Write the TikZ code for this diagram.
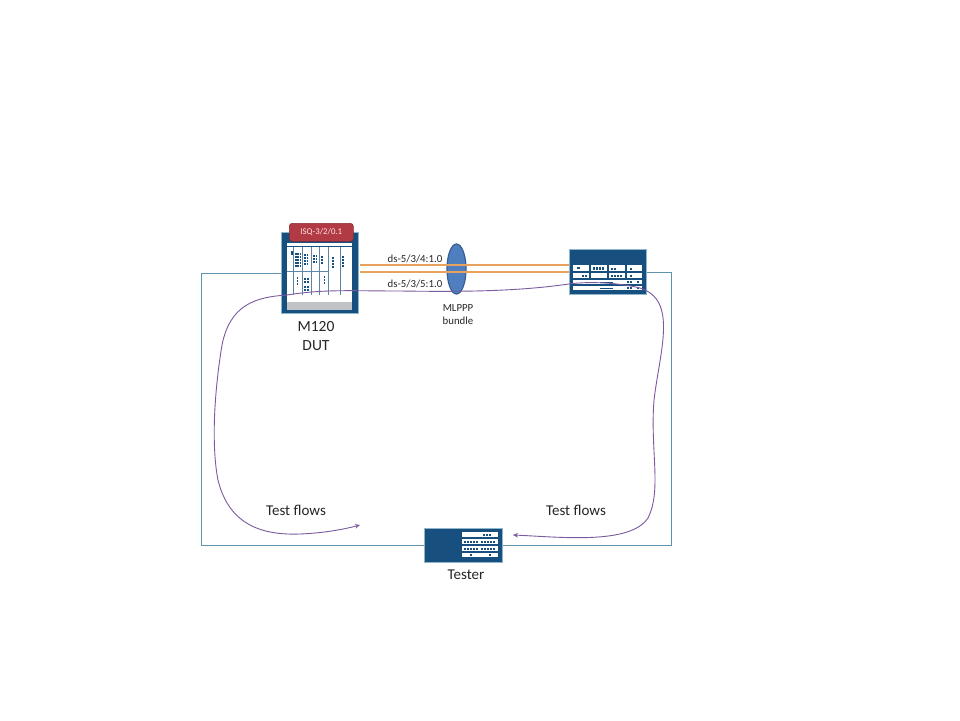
\documentclass[tikz,border=0pt]{standalone}
\usepackage{fontspec}
\setmainfont{Carlito}
\usetikzlibrary{arrows.meta,shapes.geometric}
\definecolor{devblue}{HTML}{17507F}
\definecolor{devedge}{HTML}{8FB6CC}
\definecolor{linkblue}{HTML}{5E93AE}
\definecolor{flowpurple}{HTML}{7B5AA0}
\definecolor{linkorange}{HTML}{E8A25E}
\definecolor{redbox}{HTML}{B23A44}
\definecolor{panelgray}{HTML}{BFC3C6}
\definecolor{bundlefill}{HTML}{4F7FBF}
\definecolor{bundleedge}{HTML}{3A5F95}
\tikzset{
  x=1pt,y=-1pt,
  device/.style={draw=devedge,line width=1pt,fill=devblue,inner sep=0pt,anchor=north west},
  panel/.style={fill=white,draw=none},
  dot/.style={fill=devblue,draw=none},
  ring/.style={draw=linkblue,line width=0.9pt},
  bundlelink/.style={draw=linkorange,line width=1.1pt},
  flow/.style={draw=flowpurple,line width=0.9pt},
  flowarrow/.style={flow,-{Stealth[length=5pt,width=4.5pt]}},
  lab/.style={inner sep=0pt,text=black!85},
  small/.style={lab,font=\fontsize{10.8}{12}\selectfont},
  big/.style={lab,font=\fontsize{15.5}{17}\selectfont},
  mid/.style={lab,font=\fontsize{15}{17}\selectfont},
}
\begin{document}
\begin{tikzpicture}
\useasboundingbox (0,0) rectangle (960,720);
\fill[white] (0,0) rectangle (960,720);
% devices
\node[device,minimum width=77pt,minimum height=81pt] (m120) at (281,232) {};
\node[device,minimum width=77pt,minimum height=45pt] (router) at (569,249) {};
\node[device,minimum width=78pt,minimum height=34pt] (tester) at (424,528) {};
% named connector ends
\coordinate (ringTL) at (201.5,273.5);
\coordinate (ringBL) at (201.5,545.5);
\coordinate (ringTR) at (671.5,272.5);
\coordinate (ringBR) at (671.5,545.5);
% ring
\draw[ring] (m120.west |- ringTL) -- (ringTL) -- (ringBL) -- (tester.west |- ringBL);
\draw[ring] (router.east |- ringTR) -- (ringTR) -- (ringBR) -- (tester.east |- ringBR);
% M120 internals
\fill[panel] (287,243) rectangle (352,246);
\fill[panel] (287,247) rectangle (352,295);
\fill[panel] (287,295) rectangle (352,302);
\fill[panelgray] (287,302) rectangle (352,310);
\foreach \x in {293,302,311,319,328,340} \draw[devblue!70,line width=0.6pt] (\x,247) -- (\x,295);
\draw[devblue!70,line width=0.6pt] (287,271) -- (328,271);
\foreach \x in {295.5,297.8,300.1} \foreach \y in {253,256,259,262,265} \fill[dot] (\x-0.5,\y) rectangle +(1.7,1.9);
\foreach \x in {304.5,307} \foreach \y in {254,257,260,263} \fill[dot] (\x-0.5,\y) rectangle +(1.6,1.7);
\foreach \x in {313.5,316} \foreach \y in {255,258,261} \fill[dot] (\x-0.5,\y) rectangle +(1.6,1.7);
\foreach \y in {256,259,262} \fill[dot] (321,\y) rectangle +(2,1.7);
\foreach \y in {257,260,263,266} \fill[dot] (331.5,\y) rectangle +(2,1.8);
\foreach \y in {256,259,262,265} \fill[dot] (342,\y) rectangle +(2,1.8);
\fill[dot] (291,251) rectangle +(1.5,4);
\foreach \y in {277,280,283} \fill[dot] (296.5,\y) rectangle +(1.8,1.8);
\foreach \x in {305,308} \foreach \y in {278,281,286,289} \fill[dot] (\x-0.8,\y) rectangle +(1.7,1.7);
\foreach \y in {276,279,282} \fill[dot] (323.5,\y) rectangle +(1.8,1.8);
% router internals
\foreach \x/\w in {573/16,591/16,609/16,627/15} {
  \fill[panel] (\x,265) rectangle +(\w,6);
  \fill[panel] (\x,273) rectangle +(\w,5);
}
\fill[panel] (573,280) rectangle (642,284);
\fill[panel] (573,286) rectangle (642,290);
\fill[dot] (577,266.5) rectangle +(3,2);
\foreach \x in {593,596,599,602} \fill[dot] (\x,266.5) rectangle +(2,3);
\foreach \x in {611,614} \fill[dot] (\x,268) rectangle +(2,1.6);
\fill[dot] (630,267.5) rectangle +(2,2);
\foreach \x in {582,585} \fill[dot] (\x,275) rectangle +(2,1.8);
\foreach \x in {611,614,617,620} \fill[dot] (\x,275) rectangle +(2,1.8);
\fill[dot] (630,275) rectangle +(2,1.8);
\fill[dot] (600,281.5) rectangle +(13,1);
\fill[dot] (600,287.5) rectangle +(13,1);
\foreach \x in {627,630,637} { \fill[dot] (\x,281) rectangle +(2,2); \fill[dot] (\x,287) rectangle +(2,2); }
% tester internals
\fill[panel] (462,532) rectangle (498,537);
\fill[panel] (462,539) rectangle (498,544);
\fill[panel] (462,546) rectangle (498,551);
\fill[panel] (462,553) rectangle (498,557);
\foreach \x in {483,486,489} \fill[dot] (\x,534) rectangle +(2,1.8);
\foreach \y in {541,548} \foreach \x in {464,467,470,473,476,481,484,487,490,493} \fill[dot] (\x,\y) rectangle +(1.8,1.8);
\foreach \x in {470,489} \fill[dot] (\x,554) rectangle +(2,2);
% red label
\node[draw=redbox!75!black,line width=0.6pt,fill=redbox,rounded corners=3pt,minimum width=64pt,minimum height=18pt,inner sep=0pt,anchor=north west,text=white!90!red,font=\fontsize{8.8}{10}\selectfont] (isq) at (289,223) {ISQ-3/2/0.1};
% bundle
\node[ellipse,draw=bundleedge,fill=bundlefill,line width=1.2pt,minimum width=19pt,minimum height=50pt,inner sep=0pt] (bundle) at (456.5,269) {};
\coordinate (a1) at (360,265);
\coordinate (a2) at (360,272);
\draw[bundlelink] (a1) -- (router.west |- a1);
\draw[bundlelink] (a2) -- (router.west |- a2);
% flows
\coordinate (fl0) at (287,295);
\coordinate (flL) at (360,525);
\coordinate (flR) at (513,535);
\draw[flow] (fl0) .. controls (325,289) and (350,291) .. (400,291) .. controls (470,292) and (520,291) .. (569,284) .. controls (590,281) and (620,283) .. (640,288);
\draw[flowarrow] (640,288) .. controls (678,300) and (660,350) .. (654,400) .. controls (650,450) and (662,490) .. (648,518) .. controls (630,545) and (560,537) .. (flR);
\draw[flowarrow] (fl0) .. controls (255,297) and (230,305) .. (222,345) .. controls (213,400) and (212,450) .. (218,480) .. controls (230,530) and (270,535) .. (300,534) .. controls (325,533) and (345,529) .. (flL);
% labels
\node[small] (d1) at (415,259) {ds-5/3/4:1.0};
\node[small] (d2) at (415,284) {ds-5/3/5:1.0};
\node[small] (mlp) at (458,308) {MLPPP};
\node[small] (bun) at (458,321) {bundle};
\node[big] (m1) at (316,327) {M120};
\node[big] (m2) at (316,346) {DUT};
\node[mid] (t1) at (296,510) {Test flows};
\node[mid] (t2) at (576,510) {Test flows};
\node[mid] (t3) at (466,575) {Tester};
\end{tikzpicture}
\end{document}
